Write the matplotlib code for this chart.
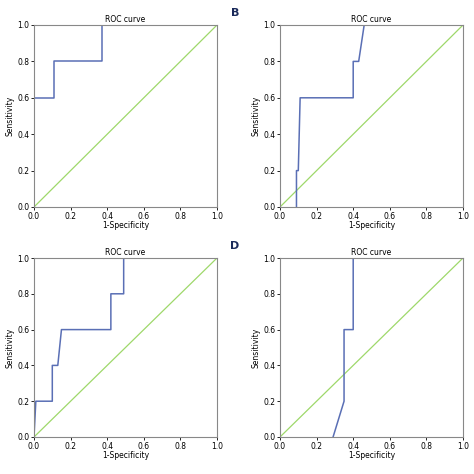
import matplotlib
matplotlib.use("Agg")
import matplotlib.pyplot as plt

a_x = [0, 0, 0.11, 0.11, 0.37, 0.37, 1.0]
a_y = [0, 0.6, 0.6, 0.8, 0.8, 1.0, 1.0]
b_x = [0.09, 0.09, 0.10, 0.11, 0.40, 0.40, 0.43, 0.46, 1.0]
b_y = [0, 0.2, 0.2, 0.6, 0.6, 0.8, 0.8, 1.0, 1.0]
c_x = [0, 0.01, 0.10, 0.10, 0.13, 0.15, 0.42, 0.42, 0.49, 0.49, 1.0]
c_y = [0, 0.2, 0.2, 0.4, 0.4, 0.6, 0.6, 0.8, 0.8, 1.0, 1.0]
d_x = [0.29, 0.35, 0.35, 0.40, 0.40, 1.0]
d_y = [0, 0.2, 0.6, 0.6, 1.0, 1.0]
ticks = [0.0, 0.2, 0.4, 0.6, 0.8, 1.0]

W = 474
fig = plt.figure(figsize=(4.74, 4.74), dpi=100)
panels = [(a_x, a_y, 34, 25, 217, 207, None),
          (b_x, b_y, 280, 25, 463, 207, "B"),
          (c_x, c_y, 34, 258, 217, 437, None),
          (d_x, d_y, 280, 258, 463, 437, "D")]
for xs, ys, x0, y0, x1, y1, lab in panels:
    ax = fig.add_axes([x0 / W, 1 - y1 / W, (x1 - x0) / W, (y1 - y0) / W])
    ax.plot([0, 1], [0, 1], color="#9ed86a", lw=0.9)
    ax.plot(xs, ys, color="#5a6fb5", lw=1.1)
    ax.set_xlim(0, 1); ax.set_ylim(0, 1)
    ax.set_xticks(ticks); ax.set_yticks(ticks)
    ax.set_xticklabels([f"{t:.1f}" for t in ticks], fontsize=5.5)
    ax.set_yticklabels([f"{t:.1f}" for t in ticks], fontsize=5.5)
    ax.tick_params(length=2, width=0.6, pad=1.5)
    for s in ax.spines.values():
        s.set_color("#888888"); s.set_linewidth(0.8)
    ax.set_title("ROC curve", fontsize=5.5, pad=2)
    ax.set_xlabel("1-Specificity", fontsize=5.5, labelpad=0)
    ax.set_ylabel("Sensitivity", fontsize=5.5, labelpad=2)
    if lab:
        fig.text((x0 - 45) / W, 1 - (y0 - 12) / W, lab, fontsize=8,
                 fontweight="bold", color="#1a2a5a", ha="center", va="center")
fig.savefig("out.png", dpi=100)
